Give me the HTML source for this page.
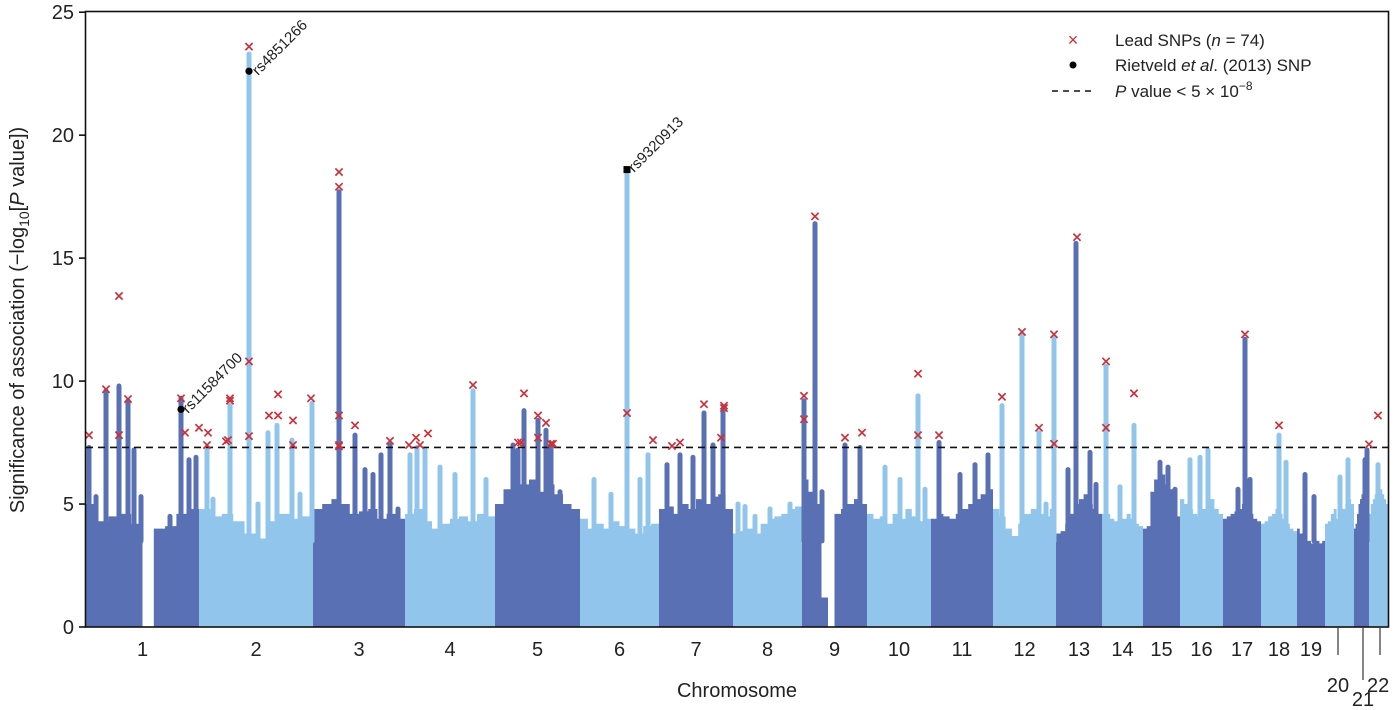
<!DOCTYPE html>
<html><head><meta charset="utf-8"><style>
html,body{margin:0;padding:0;background:#fff;}
svg{display:block;font-family:"Liberation Sans",Arial,sans-serif;}
</style></head><body>
<svg id="chart" width="1395" height="710" viewBox="0 0 1395 710" xmlns="http://www.w3.org/2000/svg">
<g id="bulk"></g>
<g id="cols"></g>
<line x1="86" y1="447.4" x2="1388" y2="447.4" stroke="#111" stroke-width="1.6" stroke-dasharray="7,5"/>
<g id="leads"></g>
<g id="marks"></g>
<rect x="85.5" y="11.5" width="1303" height="615.5" fill="none" stroke="#111" stroke-width="1.6"/>
<g id="yaxis"></g>
<g id="xaxis"></g>
<text transform="translate(24,320) rotate(-90)" text-anchor="middle" font-size="20" fill="#222">Significance of association (−log<tspan font-size="14" dy="5">10</tspan><tspan dy="-5">[</tspan><tspan font-style="italic">P</tspan> value])</text>
<text x="737" y="697" text-anchor="middle" font-size="20" fill="#222">Chromosome</text>
<g>
  <text x="1073" y="46" text-anchor="middle" font-size="18" fill="#c8323c">×</text>
  <text x="1115" y="46" font-size="17" fill="#222">Lead SNPs (<tspan font-style="italic">n</tspan> = 74)</text>
  <circle cx="1073" cy="65" r="3.5" fill="#000"/>
  <text x="1115" y="71" font-size="17" fill="#222">Rietveld <tspan font-style="italic">et al</tspan>. (2013) SNP</text>
  <line x1="1052" y1="91" x2="1095" y2="91" stroke="#111" stroke-width="1.6" stroke-dasharray="6,5"/>
  <text x="1115" y="97" font-size="17" fill="#222"><tspan font-style="italic">P</tspan> value &lt; 5 × 10<tspan font-size="12" dy="-7">−8</tspan></text>
</g>
<text transform="translate(258,76) rotate(-45)" font-size="15" fill="#222">rs4851266</text>
<text transform="translate(188,414) rotate(-45)" font-size="15" fill="#222">rs11584700</text>
<text transform="translate(634,173) rotate(-45)" font-size="15" fill="#222">rs9320913</text>
</svg>
<script>
const chromNames = ["1","2","3","4","5","6","7","8","9","10","11","12","13","14","15","16","17","18","19","20","21","22"];
const chromLengths = [113,114,92,90,85,79,74,69,65,64,62,63,46,41,37,43,38,36,28,29,15,19];
const bulkHeights = [
 [5.0,4.3,4.5,4.6,4.2,0,4.0,4.1,4.6,4.8],
 [4.8,4.5,4.6,4.3,3.8,3.6,4.3,4.6,4.4,4.5],
 [4.8,5.0,5.2,5.0,4.6,4.7,4.8,4.4,4.6,4.4],
 [4.6,4.8,4.3,4.0,4.2,4.4,4.5,4.3,4.6,4.5],
 [5.0,5.6,6.2,5.8,6.0,5.5,5.8,5.4,5.0,4.8],
 [4.4,4.0,4.2,4.0,4.3,4.1,4.0,3.8,4.1,4.2],
 [4.8,4.9,4.6,5.0,4.8,5.2,5.0,5.3,5.4,4.8],
 [3.8,3.9,4.0,3.8,4.2,4.4,4.5,4.6,4.8,4.9],
 [6.0,5.5,5.0,1.2,0,4.6,4.8,5.0,5.2,5.0],
 [4.6,4.4,4.5,4.2,4.6,4.4,4.8,4.5,4.3,4.4],
 [4.4,4.6,4.5,4.4,4.6,4.8,5.0,5.2,5.4,5.6],
 [4.8,4.5,4.0,3.7,4.2,4.6,4.8,4.6,4.5,4.8],
 [3.8,3.9,4.2,4.6,5.0,5.2,5.4,5.0,4.8,4.6],
 [4.6,4.6,4.4,4.3,4.4,4.4,4.6,4.4,4.2,4.1],
 [4.0,4.1,5.5,6.0,6.5,6.2,5.8,5.6,5.0,4.5],
 [5.2,5.0,4.8,4.6,4.5,4.8,5.0,5.2,4.8,4.6],
 [4.4,4.5,4.6,4.7,4.8,5.0,4.9,4.6,4.4,4.3],
 [4.2,4.3,4.5,4.6,4.8,4.6,4.4,4.2,4.0,3.9],
 [4.0,3.8,3.6,3.5,3.5,3.4,3.6,3.5,3.4,3.5],
 [4.2,4.3,4.6,4.8,4.4,4.5,4.8,5.0,5.2,5.0],
 [4.0,4.2,4.6,5.0,5.2,5.4,5.0,4.8,4.6,4.4],
 [4.6,5.0,5.2,5.4,5.6,5.8,5.6,5.4,5.2,5.0]
];
// columns of significant SNPs: cumulative position, top -log10 P
const columnPos = [3,10,20,33,42,48,55,84,95,103,110, 121,127,144,163,172,182,191,206,214,226, 253,269,279,287,295,304,312, 324,331,339,354,369,387,400, 427,432,438,452,460,465,474, 508,525,541,554,562, 581,594,607,618,627,637, 652,659,669,684,704, 718,729,736,759,774, 799,814,832,839, 853,874,889,902, 916,936,953,960,968, 982,990,1004,1010, 1020,1034,1048, 1074,1082,1089, 1104,1114,1122, 1152,1159,1164, 1193,1200, 1219,1228, 1254,1262, 1279,1281, 1292];
const columnTop = [7.3,5.3,9.6,9.8,9.2,7.2,5.3,4.5,9.3,6.8,6.9, 7.3,5.2,9.0,23.3,5.0,7.9,8.2,7.6,5.4,9.1, 17.7,7.8,6.4,6.2,7.0,7.4,4.8, 7.0,7.3,7.2,6.5,6.2,9.6,6.0, 7.4,7.2,8.8,8.4,8.0,7.4,5.5, 6.0,5.4,18.6,6.0,7.0, 6.6,7.0,6.9,8.7,7.4,8.8, 5.0,4.9,4.5,4.8,5.0, 9.2,16.4,5.5,7.4,7.3, 6.5,6.0,9.4,5.6, 7.5,6.2,6.6,7.0, 9.0,11.9,7.9,5.0,11.8, 6.4,15.6,7.1,5.8, 10.6,5.7,8.2, 6.7,6.5,5.6, 6.8,6.9,7.2, 5.6,11.7,6.0, 7.8,6.7, 6.2,5.3, 6.1,6.8, 6.8,7.2, 6.6];
const leadPos = [3,20,33,33,42,95,99,113,122,121,144,144,142,140,163,163,163,183,192,192,207,207,225,253,253,253,253,253,269,304,323,330,334,342,387,432,435,438,452,452,460,465,467,541,567,586,594,618,638,638,635,718,718,729,759,776,832,832,853,916,936,953,968,968,991,1020,1020,1048,1159,1193,1283,1292];
const leadVal = [7.8,9.67,13.46,7.8,9.27,9.3,7.9,8.1,7.9,7.4,9.3,9.2,7.6,7.55,23.6,10.8,7.76,8.6,8.6,9.46,8.4,7.4,9.3,18.5,17.9,8.6,7.4,7.35,8.2,7.57,7.4,7.7,7.4,7.87,9.84,7.5,7.5,9.5,8.6,7.7,8.3,7.45,7.45,8.7,7.6,7.36,7.5,9.06,9.0,8.9,7.7,9.4,8.45,16.7,7.7,7.9,10.3,7.8,7.8,9.36,12.0,8.1,11.9,7.45,15.85,10.8,8.1,9.5,11.9,8.2,7.43,8.6];
const refPos = [95,163,541];
const refVal = [8.85,22.6,18.6];
const yTicks = [0,5,10,15,20,25];

const NS="http://www.w3.org/2000/svg";
const X0=86, X1=1388, Y0=627, Y1=12.2;
const total = chromLengths.reduce((a,b)=>a+b,0);
const xs = u => X0 + u*(X1-X0)/total;
const ys = v => Y0 - v*(Y0-Y1)/25;
const starts=[]; {let s=0; for(const l of chromLengths){starts.push(s); s+=l;}}
const DARK="#5a70b5", LIGHT="#92c5ec";
const colorAt = u => { let c=0; for(let i=0;i<starts.length;i++){ if(u>=starts[i]) c=i; } return c%2===0?DARK:LIGHT; };
function mk(tag, attrs, parent){ const e=document.createElementNS(NS,tag); for(const k in attrs) e.setAttribute(k,attrs[k]); parent.appendChild(e); return e; }

const gB=document.getElementById('bulk');
chromLengths.forEach((len,i)=>{
  const h=bulkHeights[i], n=h.length;
  let d=`M${xs(starts[i])},${Y0}`;
  h.forEach((v,j)=>{ const a=xs(starts[i]+len*j/n), b=xs(starts[i]+len*(j+1)/n); d+=` L${a},${ys(v)} L${b},${ys(v)}`; });
  d+=` L${xs(starts[i]+len)},${Y0} Z`;
  const p=mk('path',{d:d,fill:i%2===0?DARK:LIGHT},gB);
  
  
});
const gC=document.getElementById('cols');
columnPos.forEach((u,i)=>{
  const l=mk('line',{x1:xs(u),x2:xs(u),y1:ys(3.5),y2:ys(columnTop[i]),stroke:colorAt(u),'stroke-width':5,'stroke-linecap':'round'},gC);
  
  
});
const gL=document.getElementById('leads');
leadPos.forEach((u,i)=>{
  const x=xs(u), y=ys(leadVal[i]), s=3.6;
  const p=mk('path',{d:`M${x-s},${y-s}L${x+s},${y+s}M${x-s},${y+s}L${x+s},${y-s}`,stroke:"#c8323c",'stroke-width':1.7,fill:'none'},gL);
  
  
});
const gM=document.getElementById('marks');
refPos.forEach((u,i)=>{
  let e;
  if(i===2){ e=mk('rect',{x:xs(u)-3.5,y:ys(refVal[i])-3.5,width:7,height:7,fill:'#000'},gM); }
  else { e=mk('circle',{cx:xs(u),cy:ys(refVal[i]),r:3.6,fill:'#000'},gM); }
  
  
});
const gY=document.getElementById('yaxis');
yTicks.forEach(t=>{
  const l=mk('line',{x1:79,x2:86,y1:ys(t),y2:ys(t),stroke:'#111','stroke-width':1.6},gY);
  
  
  const tx=mk('text',{x:74,y:ys(t)+7,'text-anchor':'end','font-size':20,fill:'#222'},gY);
  tx.textContent=t;
  
  
});
const gX=document.getElementById('xaxis');
const special={ "20":[1338,655,692], "21":[1363,680,706], "22":[1380,655,692] };
chromLengths.forEach((len,i)=>{
  const name=chromNames[i];
  const cx=xs(starts[i]+len/2);
  const tx=mk('text',{'font-size':20,fill:'#222','text-anchor':'middle'},gX);
  if(special[name]){
    const [lx,ly,ty]=special[name];
    const l=mk('line',{x1:lx,x2:lx,y1:628,y2:ly,stroke:'#333','stroke-width':1.2},gX);
    
    
    tx.setAttribute('x', lx);
    tx.setAttribute('y', ty);
    if(name==="22"){ tx.setAttribute('text-anchor','start'); tx.setAttribute('x', lx-13); }
  } else {
    tx.setAttribute('x',cx); tx.setAttribute('y',656);
  }
  tx.textContent=name;
  
  
});
</script>
</body></html>
